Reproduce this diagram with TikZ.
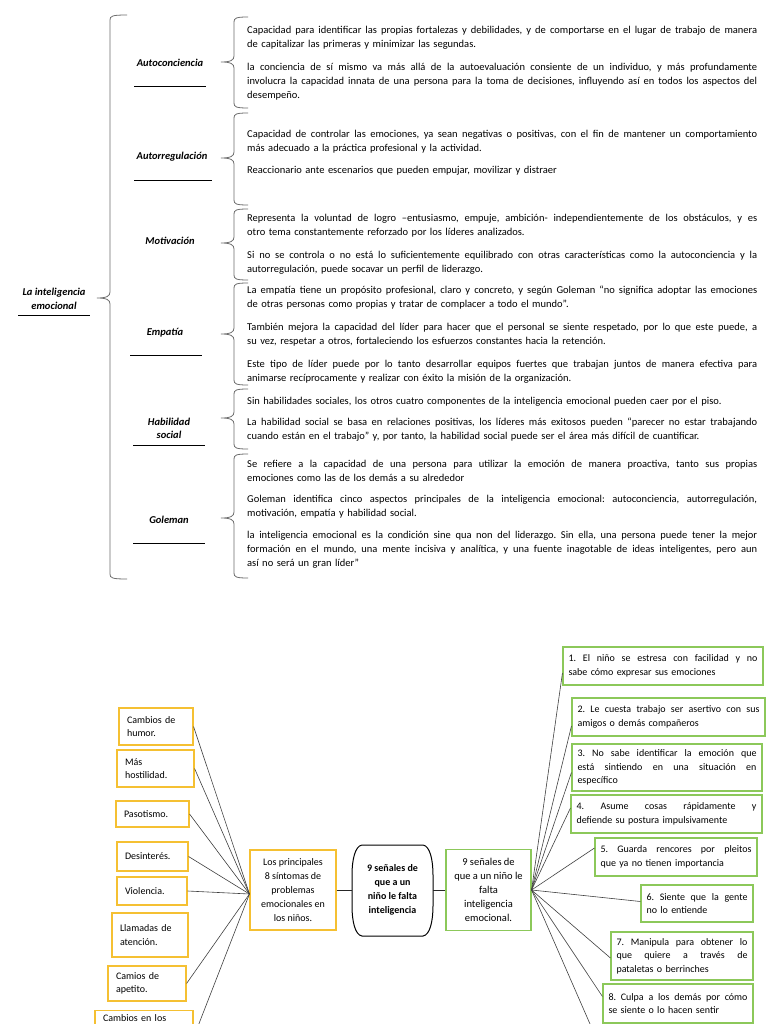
\documentclass[tikz,border=0pt]{standalone}
\usepackage{fontspec}
\setmainfont{Carlito}
\usetikzlibrary{calc}
\setlength{\parindent}{0pt}
\definecolor{ycol}{RGB}{245,192,50}
\definecolor{gcol}{RGB}{140,200,90}
\definecolor{bcol}{RGB}{110,110,110}
\newlength\slw
\newcommand\sline[1]{\makebox[\slw][s]{\frenchspacing\spaceskip=\fontdimen2\font plus 1fil minus \fontdimen4\font\relax #1}}
\newcommand\wbrace[6]{\draw[bracel] ({#1+#5},#2) .. controls ({#1+2},#2) and (#1,{#2+1}) .. (#1,{#2+5}) -- (#1,{#3-6}) .. controls (#1,{#3-2}) and ({#1-3},#3) .. ({#1-#6},#3) .. controls ({#1-3},#3) and (#1,{#3+2}) .. (#1,{#3+6}) -- (#1,{#4-5}) .. controls (#1,{#4-1}) and ({#1+2},#4) .. ({#1+#5},#4);}
\begin{document}
\begin{tikzpicture}[x=1pt,y=-1pt,
  bracel/.style={draw=bcol,line width=0.8pt},
  lbl/.style={font=\fontsize{10.5}{13.5}\selectfont\bfseries\itshape,align=center,inner sep=0},
  para/.style={anchor=base west,inner sep=0,text width=510pt,align=left,font=\fontsize{10.5}{14}\selectfont,execute at begin node={\setlength{\slw}{510pt}}},
  uline/.style={draw=black,line width=0.8pt},
  ybox/.style={draw=ycol,line width=1.1pt,align=left,inner xsep=8pt,inner ysep=0pt,font=\fontsize{10}{13.5}\selectfont,text width=#1},
  gbox/.style={draw=gcol,line width=1.1pt,align=left,inner xsep=5.5pt,inner ysep=0pt,font=\fontsize{10}{13.5}\selectfont,text width=#1,execute at begin node={\setlength{\slw}{#1}}},
  conn/.style={draw=black!75,line width=0.6pt},
  hconn/.style={draw=black!85,line width=1pt}]
\useasboundingbox (0,0) rectangle (768,1024);
\fill[white] (0,0) rectangle (768,1024);
\clip (0,0) rectangle (768,1024);

% ---------- top: braces ----------
\wbrace{110}{15}{298}{579}{17}{13}
\wbrace{234}{17}{62}{108}{14}{13}
\wbrace{234}{113}{158}{205}{14}{13}
\wbrace{234}{209}{243}{280}{14}{13}
\wbrace{234}{283}{334}{385}{14}{13}
\wbrace{234}{389}{418}{449}{14}{13}
\wbrace{234}{454}{518}{578}{14}{13}

% ---------- top: labels ----------
\node[lbl] (root) at (54,299) {La inteligencia\\emocional};
\node[lbl] (k1) at (170,63) {Autoconciencia};
\node[lbl] (k2) at (172,157) {Autorregulación};
\node[lbl] (k3) at (170,241) {Motivación};
\node[lbl] (k4) at (165,333) {Empatía};
\node[lbl] (k5) at (169,428.5) {Habilidad\\social};
\node[lbl] (k6) at (169,520) {Goleman};
\draw[uline] (18,315) -- (90,315);
\draw[uline] (134,86) -- (206,86);
\draw[uline] (134,180) -- (212,180);
\draw[uline] (130,355) -- (202,355);
\draw[uline] (133,445) -- (205,445);
\draw[uline] (133,543) -- (205,543);

% ---------- top: paragraphs ----------
\node[para] (t1) at (247,33.5) {\sline{Capacidad para identificar las propias fortalezas y debilidades, y de comportarse en el lugar de trabajo de manera}\\de capitalizar las primeras y minimizar las segundas.};
\node[para] (t2) at (247,70.5) {\sline{la conciencia de sí mismo va más allá de la autoevaluación consiente de un individuo, y más profundamente}\\\sline{involucra la capacidad innata de una persona para la toma de decisiones, influyendo así en todos los aspectos del}\\desempeño.};
\node[para] (t3) at (247,137.5) {\sline{Capacidad de controlar las emociones, ya sean negativas o positivas, con el fin de mantener un comportamiento}\\más adecuado a la práctica profesional y la actividad.};
\node[para] (t4) at (247,173.5) {Reaccionario ante escenarios que pueden empujar, movilizar y distraer};
\node[para] (t5) at (247,221.5) {\sline{Representa la voluntad de logro –entusiasmo, empuje, ambición- independientemente de los obstáculos, y es}\\otro tema constantemente reforzado por los líderes analizados.};
\node[para] (t6) at (247,258.5) {\sline{Si no se controla o no está lo suficientemente equilibrado con otras características como la autoconciencia y la}\\autorregulación, puede socavar un perfil de liderazgo.};
\node[para] (t7) at (247,293.5) {\sline{La empatía tiene un propósito profesional, claro y concreto, y según Goleman “no significa adoptar las emociones}\\de otras personas como propias y tratar de complacer a todo el mundo”.};
\node[para] (t8) at (247,330.5) {\sline{También mejora la capacidad del líder para hacer que el personal se siente respetado, por lo que este puede, a}\\su vez, respetar a otros, fortaleciendo los esfuerzos constantes hacia la retención.};
\node[para] (t9) at (247,367.5) {\sline{Este tipo de líder puede por lo tanto desarrollar equipos fuertes que trabajan juntos de manera efectiva para}\\animarse recíprocamente y realizar con éxito la misión de la organización.};
\node[para] (t10) at (247,404.5) {Sin habilidades sociales, los otros cuatro componentes de la inteligencia emocional pueden caer por el piso.};
\node[para] (t11) at (247,425.5) {\sline{La habilidad social se basa en relaciones positivas, los líderes más exitosos pueden “parecer no estar trabajando}\\cuando están en el trabajo” y, por tanto, la habilidad social puede ser el área más difícil de cuantificar.};
\node[para] (t12) at (247,467.5) {\sline{Se refiere a la capacidad de una persona para utilizar la emoción de manera proactiva, tanto sus propias}\\emociones como las de los demás a su alrededor};
\node[para] (t13) at (247,502.5) {\sline{Goleman identifica cinco aspectos principales de la inteligencia emocional: autoconciencia, autorregulación,}\\motivación, empatía y habilidad social.};
\node[para] (t14) at (247,538.5) {\sline{la inteligencia emocional es la condición sine qua non del liderazgo. Sin ella, una persona puede tener la mejor}\\\sline{formación en el mundo, una mente incisiva y analítica, y una fuente inagotable de ideas inteligentes, pero aun}\\así no será un gran líder”};

% ---------- bottom: left yellow boxes ----------
\node[ybox=58pt,minimum height=37pt] (s1) at (156,726.5) {Cambios de\\humor.};
\node[ybox=61pt,minimum height=37pt] (s2) at (155.5,768.5) {Más\\hostilidad.};
\node[ybox=57pt,minimum height=26pt] (s3) at (152.5,814) {Pasotismo.};
\node[ybox=55pt,minimum height=29pt] (s4) at (152.5,856.5) {Desinterés.};
\node[ybox=54pt,minimum height=28pt] (s5) at (152,891) {Violencia.};
\node[ybox=60pt,minimum height=44pt] (s6) at (150,935) {Llamadas de\\atención.};
\node[ybox=62pt,minimum height=35pt] (s7) at (147,983.5) {Camios de\\apetito.};
\node[ybox=82pt,anchor=north,inner ysep=3pt,text height=8pt,text depth=30pt] (s8) at (144,1010) {Cambios en los};

\node[draw=ycol,line width=1.1pt,align=center,font=\fontsize{10}{14}\selectfont,minimum width=86pt,minimum height=80pt,inner sep=0] (c1) at (293,890) {Los principales\\8 síntomas de\\problemas\\emocionales en\\los niños.};

\node[align=center,font=\fontsize{10}{14}\selectfont\bfseries,minimum width=81pt,minimum height=91pt,inner sep=0] (r) at (392.5,890) {9 señales de\\que a un\\niño le falta\\inteligencia};
\draw[line width=1pt] (362,845) -- (423,845) .. controls (430,846) and (433,860) .. (433,875) -- (433,906) .. controls (433,921) and (430,935) .. (423,936) -- (362,936) .. controls (355,935) and (352,921) .. (352,906) -- (352,875) .. controls (352,860) and (355,846) .. (362,845) -- cycle;

\node[draw=gcol,line width=1.1pt,align=center,font=\fontsize{10.5}{14}\selectfont,minimum width=85pt,minimum height=81pt,inner sep=0] (g) at (488.5,890) {9 señales de\\que a un niño le\\falta\\inteligencia\\emocional.};

% ---------- bottom: right green boxes ----------
\node[gbox=189pt,minimum height=38pt] (b1) at (663,666) {\sline{1. El niño se estresa con facilidad y no}\\sabe cómo expresar sus emociones};
\node[gbox=182pt,minimum height=38pt] (b2) at (668.5,717) {\sline{2. Le cuesta trabajo ser asertivo con sus}\\amigos o demás compañeros};
\node[gbox=179pt,minimum height=47pt] (b3) at (667,767.5) {\sline{3. No sabe identificar la emoción que}\\\sline{está sintiendo en una situación en}\\específico};
\node[gbox=180pt,minimum height=38pt] (b4) at (666.5,814) {\sline{4. Asume cosas rápidamente y}\\defiende su postura impulsivamente};
\node[gbox=151pt,minimum height=38pt] (b5) at (676,857) {\sline{5. Guarda rencores por pleitos}\\que ya no tienen importancia};
\node[gbox=101pt,minimum height=37pt] (b6) at (697,903.5) {\sline{6. Siente que la gente}\\no lo entiende};
\node[gbox=131pt,minimum height=48pt] (b7) at (682,956) {\sline{7. Manipula para obtener lo}\\\sline{que quiere a través de}\\pataletas o berrinches};
\node[gbox=139pt,minimum height=39pt] (b8) at (678,1003.5) {\sline{8. Culpa a los demás por cómo}\\se siente o lo hacen sentir};
\coordinate (n9) at (597,1040);

% ---------- connectors ----------
\draw[hconn] (c1.east) -- (r.west);
\draw[hconn] (r.east) -- (g.west);
\draw[conn] ([yshift=-4pt]c1.west) -- (s1.east);
\draw[conn] ([yshift=-4pt]c1.west) -- (s2.east);
\draw[conn] ([yshift=-4pt]c1.west) -- (s3.east);
\draw[conn] ([yshift=-4pt]c1.west) -- (s4.east);
\draw[conn] ([yshift=-4pt]c1.west) -- (s5.east);
\draw[conn] ([yshift=-4pt]c1.west) -- (s7.east);
\draw[conn] ([yshift=-4pt]c1.west) -- ([yshift=-5pt]s8.east);
\draw[conn] (g.east) -- ([yshift=-7pt]b1.west);
\draw[conn] (g.east) -- ([yshift=-9pt]b2.west);
\draw[conn] (g.east) -- ([yshift=-5pt]b3.west);
\draw[conn] (g.east) -- ([yshift=6pt]b4.west);
\draw[conn] (g.east) -- ([yshift=9pt]b5.west);
\draw[conn] (g.east) -- ([yshift=2pt]b6.west);
\draw[conn] (g.east) -- ([yshift=-2pt]b7.west);
\draw[conn] (g.east) -- ([yshift=7pt]b8.west);
\draw[conn] (g.east) -- (n9);
\end{tikzpicture}
\end{document}
